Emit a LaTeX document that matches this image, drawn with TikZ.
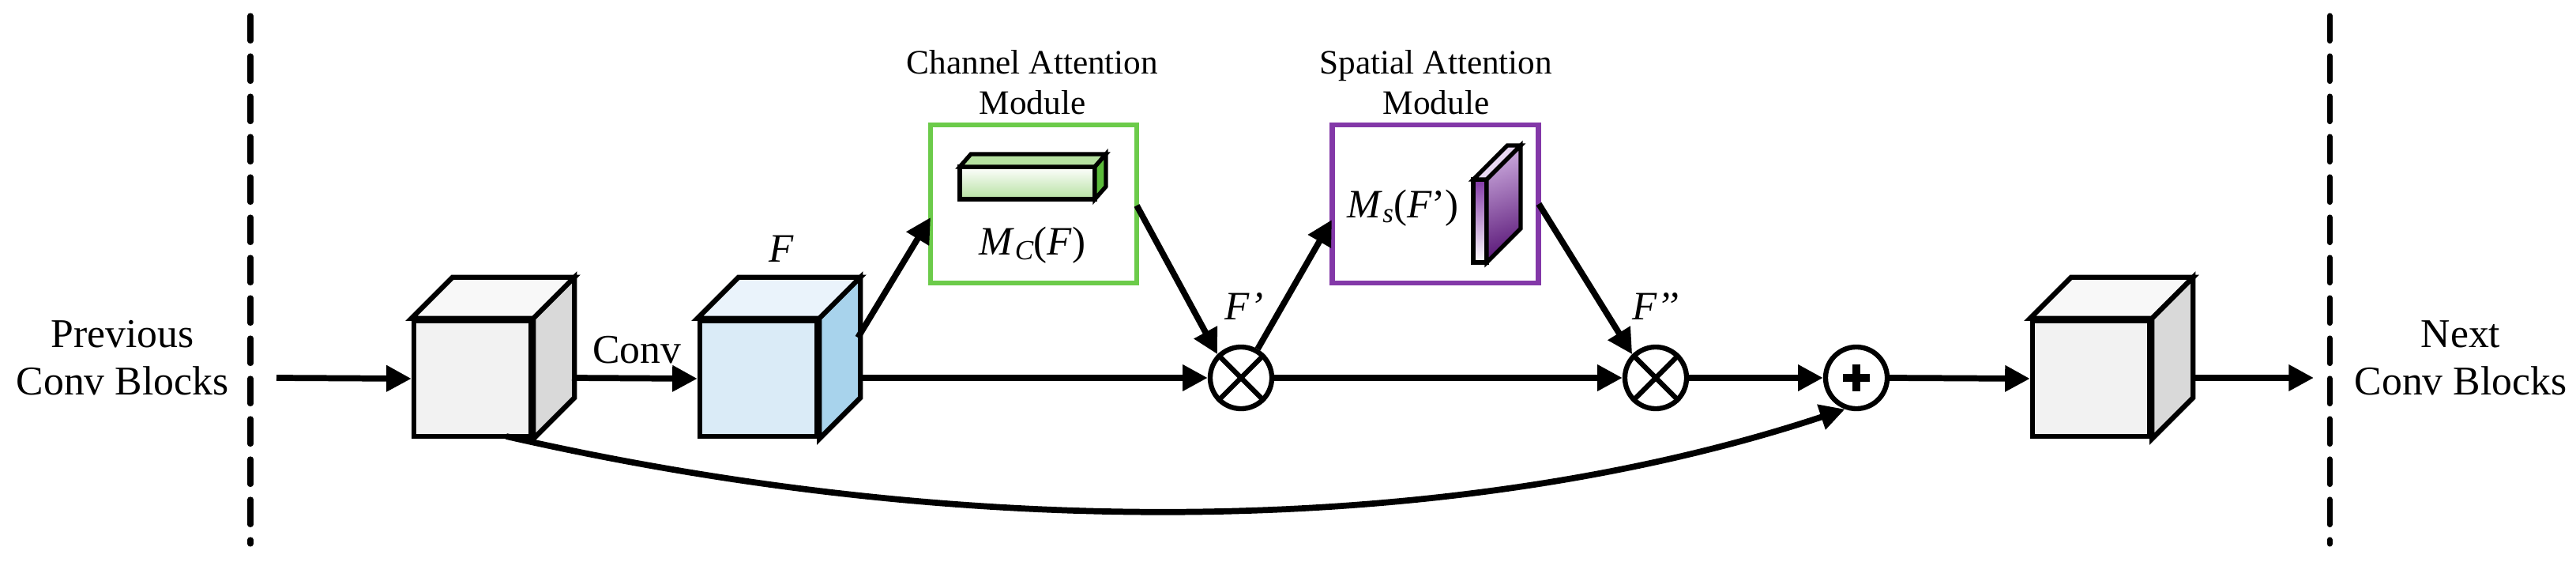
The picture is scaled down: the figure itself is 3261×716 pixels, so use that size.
\documentclass[tikz,border=0pt]{standalone}
\usepackage{fontspec}
\setmainfont{Liberation Serif}
\usetikzlibrary{arrows.meta,calc}
\definecolor{cfront}{HTML}{F2F2F2}
\definecolor{ctop}{HTML}{F8F8F8}
\definecolor{cside}{HTML}{D9D9D9}
\definecolor{bfront}{HTML}{DAEBF7}
\definecolor{btop}{HTML}{EAF3FB}
\definecolor{bside}{HTML}{A8D3EC}
\definecolor{gbox}{HTML}{6CCB4A}
\definecolor{gbar}{HTML}{B5E0A0}
\definecolor{gside}{HTML}{5BBB3A}
\definecolor{pbox}{HTML}{8338A8}
\definecolor{pdark}{HTML}{5C1A7A}
\definecolor{plight}{HTML}{E8D8F2}
\begin{document}
\begin{tikzpicture}[x=0.01cm,y=-0.01cm,
  line width=2.2pt,
  arr/.style={-{Triangle[length=9pt,width=9pt]}},
  face/.style={draw=black,line width=1.8pt,line join=miter},
  front/.style={face,minimum width=1.48cm,minimum height=1.46cm,inner sep=0pt},
  op/.style={circle,draw=black,line width=1.8pt,minimum size=0.78cm,inner sep=0pt},
  mod/.style={draw,line width=1.9pt,minimum width=2.61cm,minimum height=2.0cm,inner sep=0pt},
  txt/.style={font=\fontsize{14.7pt}{17pt}\selectfont,align=center},
  ttl/.style={font=\fontsize{12.3pt}{14.5pt}\selectfont,align=center},
  lbl/.style={font=\fontsize{14.5pt}{17pt}\selectfont\itshape},
  sepline/.style={line width=2pt,line cap=round,dash pattern=on 9pt off 5.5pt}]
\useasboundingbox (0,0) rectangle (3261,716);

% dashed separators
\coordinate (d1a) at (317,20); \coordinate (d1b) at (317,688);
\coordinate (d2a) at (2949,20); \coordinate (d2b) at (2949,688);
\draw[sepline] (d1a) -- (d1b);
\draw[sepline] (d2a) -- (d2b);
\node[txt] (prev) at (155,453) {Previous\\Conv Blocks};
\node[txt] (next) at (3115,453) {Next\\Conv Blocks};

% cubes
\node[front,fill=cfront] (c1) at (598,479) {};
\node[front,fill=bfront] (c2) at (960,479) {};
\node[front,fill=cfront] (c3) at (2647,479) {};
\foreach \c/\t/\s in {c1/ctop/cside,c2/btop/bside,c3/ctop/cside}{
  \draw[face,fill=\t] (\c.north west) -- ++(52,-52) -- ($(\c.north east)+(52,-52)$) -- (\c.north east) -- cycle;
  \draw[face,fill=\s] (\c.north east) -- ++(52,-52) -- ($(\c.south east)+(52,-52)$) -- (\c.south east) -- cycle;
}
\node[txt] (conv) at (806,443) {Conv};
\node[lbl] (lF) at (989,315) {F};

% modules
\node[mod,draw=gbox] (cab) at (1308.5,258) {};
\node[mod,draw=pbox] (sab) at (1817,258) {};
\node[ttl] (cabt) at (1307,104) {Channel Attention\\Module};
\node[ttl] (sabt) at (1818,104) {Spatial Attention\\Module};
% green bar
\draw[face,line width=1.5pt,top color=white,bottom color=gbar] (1215,211) rectangle (1386,252);
\draw[face,line width=1.5pt,fill=gbar] (1215,211) -- (1229,195) -- (1400,195) -- (1386,211) -- cycle;
\draw[face,line width=1.5pt,fill=gside] (1386,211) -- (1400,195) -- (1400,236) -- (1386,252) -- cycle;
\node[font=\fontsize{14.5pt}{17pt}\selectfont] (mc) at (1307,310) {\textit{M}\raisebox{-0.25ex}{\fontsize{10pt}{12pt}\selectfont\textit{C}}(\textit{F})};
% purple slab
\draw[face,line width=1.5pt,top color=pbox,bottom color=white] (1865,227) rectangle (1882,332);
\draw[face,line width=1.5pt,fill=plight] (1865,227) -- (1908,184) -- (1925,184) -- (1882,227) -- cycle;
\draw[face,line width=1.5pt,top color=plight!70!pbox,bottom color=pdark,shading angle=20] (1882,227) -- (1925,184) -- (1925,289) -- (1882,332) -- cycle;
\node[font=\fontsize{14.5pt}{17pt}\selectfont] (ms) at (1776,263) {\textit{M}\raisebox{-0.25ex}{\fontsize{10pt}{12pt}\selectfont\textit{s}}(\textit{F}’)};

% operators
\node[op] (o1) at (1571,478) {};
\node[op] (o2) at (2096,478) {};
\node[op] (o3) at (2350,478) {};
\foreach \o in {o1,o2}{
  \draw[line width=1.8pt] (\o.north west) -- (\o.south east);
  \draw[line width=1.8pt] (\o.north east) -- (\o.south west);
}
\draw[line width=2.6pt] ($(o3)+(-17,0)$) -- ($(o3)+(17,0)$);
\draw[line width=2.6pt] ($(o3)+(0,-17)$) -- ($(o3)+(0,17)$);
\node[lbl] (lF1) at (1575,388) {F’};
\node[lbl] (lF2) at (2096,388) {F’’};

% connectors
\coordinate (in) at (350,478);
\coordinate (out) at (2929,478);
\coordinate (c1s) at (724,478);
\coordinate (c2s) at (1086,478);
\coordinate (c2u) at (1086,427);
\coordinate (c3s) at (2774,478);
\coordinate (cabL) at (1178,275);
\coordinate (cabR) at (1439,260);
\coordinate (sabL) at (1686,278);
\coordinate (sabR) at (1948,258);
\coordinate (c1b) at (641,552);
\draw[arr] (in) -- (c1.west);
\draw[arr] (c1s) -- (c2.west);
\draw[arr] (c2s) -- (o1.west);
\draw[arr] (c2u) -- (cabL);
\draw[arr] (cabR) -- (o1.north west);
\draw[arr] (o1.60) -- (sabL);
\draw[arr] (o1.east) -- (o2.west);
\draw[arr] (sabR) -- (o2.north west);
\draw[arr] (o2.east) -- (o3.west);
\draw[arr] (o3.east) -- (c3.west);
\draw[arr] (c3s) -- (out);
\draw[arr] (c1b) .. controls (1300,702) and (1900,662) .. (o3.250);
\end{tikzpicture}
\end{document}
